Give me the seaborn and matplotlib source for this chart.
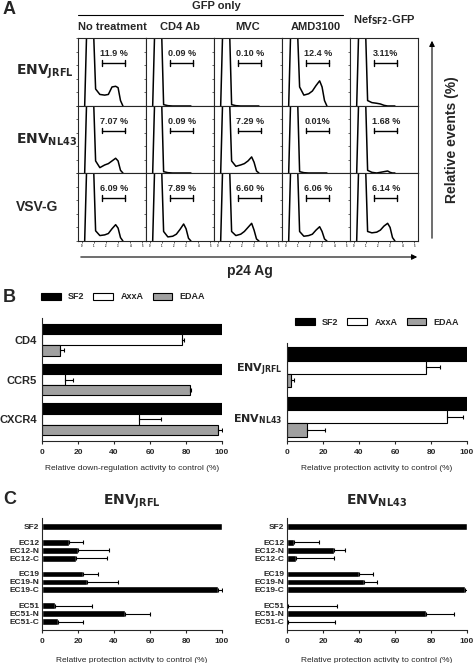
import matplotlib
matplotlib.use('Agg')
import matplotlib.pyplot as plt
import numpy as np
import pandas as pd
import seaborn as sns

sns.set_style('ticks')
plt.rcParams['font.family'] = ['Liberation Sans', 'DejaVu Sans']
plt.rcParams['font.weight'] = 'bold'
plt.rcParams['axes.linewidth'] = 0.8

W, H = 474, 663

# ---------------- data ----------------
# panel A: histogram outlines on a log10 p24 axis
hist_x = [0.25, 0.4, 1.0, 1.15, 1.5, 1.9, 2.2, 2.5, 2.8, 3.0, 3.2, 3.4]
row_names = [r'$\mathbf{ENV_{JRFL}}$', r'$\mathbf{ENV_{NL43}}$', 'VSV-G']
col_names = ['No treatment', 'CD4 Ab', 'MVC', 'AMD3100']
pct_labels = [['11.9 %', '0.09 %', '0.10 %', '12.4 %', '3.11%'],
              ['7.07 %', '0.09 %', '7.29 %', '0.01%', '1.68 %'],
              ['6.09 %', '7.89 %', '6.60 %', '6.06 %', '6.14 %']]
hist_y = [
    [[0, 100, 100, 25, 17, 16, 17, 28, 29, 27, 8, 0],
     [0, 100, 100, 2, 0.5, 0, 0, 0, 0, 0, 0, 0],
     [0, 100, 100, 2, 0.5, 0, 0, 0, 0, 0, 0, 0],
     [0, 100, 100, 28, 16, 18, 22, 30, 37, 28, 8, 0],
     [0, 100, 100, 8, 5, 4, 3, 1, 0, 0, 0, 0]],
    [[0, 100, 100, 18, 8, 12, 14, 18, 22, 18, 4, 0],
     [0, 100, 100, 2, 0.5, 0, 0, 0, 0, 0, 0, 0],
     [0, 100, 100, 18, 10, 12, 14, 18, 24, 16, 3, 0],
     [0, 100, 100, 2, 0.5, 0, 0, 0, 0, 0, 0, 0],
     [0, 100, 100, 4, 1, 0, 1, 2, 3, 1, 0, 0]],
    [[0, 100, 100, 15, 8, 9, 11, 18, 24, 19, 5, 0],
     [0, 100, 100, 14, 6, 7, 10, 17, 25, 18, 4, 0],
     [0, 100, 100, 14, 8, 10, 14, 20, 26, 16, 3, 0],
     [0, 100, 100, 14, 7, 8, 10, 16, 21, 14, 3, 0],
     [0, 100, 100, 14, 12, 13, 16, 22, 26, 20, 5, 0]],
]

# panel B
b_left_targets = ['CD4', 'CCR5', 'CXCR4']
b_constructs = ['SF2', 'AxxA', 'EDAA']
b_left_vals = {'SF2': [100, 100, 100], 'AxxA': [78, 13, 54], 'EDAA': [10, 82, 98]}
b_left_err = {'SF2': [0, 0, 0], 'AxxA': [1, 4, 12], 'EDAA': [2, 1, 2]}
b_right_targets = [r'$\mathbf{ENV_{JRFL}}$', r'$\mathbf{ENV_{NL43}}$']
b_right_vals = {'SF2': [100, 100], 'AxxA': [77, 89], 'EDAA': [2, 11]}
b_right_err = {'SF2': [0, 0], 'AxxA': [8, 9], 'EDAA': [2, 10]}

# panel C
c_mutants = ['SF2', 'EC12', 'EC12-N', 'EC12-C', 'EC19', 'EC19-N', 'EC19-C',
             'EC51', 'EC51-N', 'EC51-C']
c_order = ['SF2', ' ', 'EC12', 'EC12-N', 'EC12-C', '  ', 'EC19', 'EC19-N', 'EC19-C',
           '   ', 'EC51', 'EC51-N', 'EC51-C']
c_jrfl = [100, 15, 20, 19, 23, 25, 98, 7, 46, 9]
c_jrfl_err = [0, 8, 17, 17, 8, 17, 2, 21, 14, 14]
c_nl43 = [100, 4, 26, 5, 40, 43, 99, 0.5, 77, 0.5]
c_nl43_err = [0, 14, 6, 21, 8, 7, 2, 27, 16, 26]

fig = plt.figure(figsize=(W / 100, H / 100), dpi=100)


def box(x0, y0, x1, y1):
    return [x0 / W, 1 - y1 / H, (x1 - x0) / W, (y1 - y0) / H]


def ftext(x, y, s, **kw):
    fig.text(x / W, 1 - y / H, s, **kw)


# ---------------- panel A ----------------
cols_x = [78, 146, 214, 282, 350, 418]
rows_y = [38, 106, 173, 241]
for r in range(3):
    for c in range(5):
        ax = fig.add_axes(box(cols_x[c], rows_y[r], cols_x[c + 1], rows_y[r + 1]))
        sns.lineplot(x=hist_x, y=hist_y[r][c], color='black', lw=1.1, ax=ax)
        ax.set_xlim(-0.3, 5.3)
        ax.set_ylim(0, 100)
        ax.set_xticks(range(6))
        ax.set_yticks([0, 20, 40, 60, 80, 100])
        ax.tick_params(length=1.5, width=0.5, labelsize=2, pad=0.5)
        ax.set_yticklabels([])
        if r < 2:
            ax.set_xticklabels([])
        ax.plot([1.7, 3.6], [63, 63], color='black', lw=1)
        ax.plot([1.7, 1.7], [59, 67], color='black', lw=1)
        ax.plot([3.6, 3.6], [59, 67], color='black', lw=1)
        ax.text(2.65, 70, pct_labels[r][c], ha='center', va='bottom', fontsize=6.5)

ftext(3, 10, 'A', fontsize=13, va='center')
ftext(216, 6, 'GFP only', fontsize=8, ha='center', va='center')
fig.add_artist(plt.Line2D([78 / W, 343 / W], [1 - 15 / H, 1 - 15 / H], color='black', lw=0.8))
for c, name in enumerate(col_names):
    ftext((cols_x[c] + cols_x[c + 1]) / 2, 27, name, fontsize=8, ha='center', va='center')
ftext(384, 20, r'Nef$_{\mathbf{SF2}}$-GFP', fontsize=8, ha='center', va='center')
for r, name in enumerate(row_names):
    ftext(16, (rows_y[r] + rows_y[r + 1]) / 2, name, fontsize=10, va='center')
fig.add_artist(matplotlib.patches.FancyArrowPatch((78 / W, 1 - 257 / H), (420 / W, 1 - 257 / H),
               transform=fig.transFigure, arrowstyle='-|>', mutation_scale=8, color='black', lw=0.8))
fig.add_artist(matplotlib.patches.FancyArrowPatch((432 / W, 1 - 241 / H), (432 / W, 1 - 38 / H),
               transform=fig.transFigure, arrowstyle='-|>', mutation_scale=8, color='black', lw=0.8))
ftext(250, 271, 'p24 Ag', fontsize=10, ha='center', va='center')
ftext(452, 140, 'Relative events (%)', fontsize=10, ha='center', va='center', rotation=90)

# ---------------- panel B ----------------
palette = {'SF2': 'black', 'AxxA': 'white', 'EDAA': '#a0a0a0'}


def grouped(ax, targets, vals, errs, xlabel):
    df = pd.DataFrame([(t, k, vals[k][i]) for k in b_constructs for i, t in enumerate(targets)],
                      columns=['target', 'construct', 'value'])
    sns.barplot(data=df, y='target', x='value', hue='construct', hue_order=b_constructs,
                palette=palette, edgecolor='black', linewidth=0.8, orient='h',
                errorbar=None, width=0.8, ax=ax)
    for k, cont in zip(b_constructs, ax.containers):
        for i, p in enumerate(cont.patches):
            if errs[k][i] > 0:
                yc = p.get_y() + p.get_height() / 2
                ax.errorbar(vals[k][i], yc, xerr=[[0], [errs[k][i]]], color='black',
                            lw=0.8, capsize=1.5, capthick=0.8)
    ax.set_xlim(0, 100)
    ax.set_xticks(range(0, 101, 20))
    ax.set_xlabel(xlabel, fontsize=6, labelpad=7)
    ax.set_ylabel('')
    ax.tick_params(axis='y', length=0, labelsize=8)
    ax.tick_params(axis='x', labelsize=6, length=2)
    sns.despine(ax=ax)
    ax.legend(ncol=3, frameon=False, fontsize=6.5, handlelength=2.2, handleheight=0.8,
              columnspacing=1.0, loc='lower center', bbox_to_anchor=(0.5, 1.02))


axb1 = fig.add_axes(box(42, 318, 222, 441))
grouped(axb1, b_left_targets, b_left_vals, b_left_err, 'Relative down-regulation activity to control (%)')
axb1.get_legend().set_bbox_to_anchor((0.45, 1.07))
axb2 = fig.add_axes(box(287, 343, 467, 441))
grouped(axb2, b_right_targets, b_right_vals, b_right_err, 'Relative protection activity to control (%)')
axb2.get_legend().set_bbox_to_anchor((0.5, 1.08))
ftext(3, 297, 'B', fontsize=13, va='center')

# ---------------- panel C ----------------


def mutant_plot(ax, vals, errs, title):
    df = pd.DataFrame({'mutant': c_mutants, 'value': vals})
    sns.barplot(data=df, y='mutant', x='value', order=c_order, color='black',
                orient='h', errorbar=None, width=0.85, ax=ax)
    for m, v, e in zip(c_mutants, vals, errs):
        if e > 0:
            ax.errorbar(v, c_order.index(m), xerr=[[0], [e]], color='black',
                        lw=0.8, capsize=1.5, capthick=0.8)
    ax.set_xlim(0, 100)
    ax.set_xticks(range(0, 101, 20))
    ax.set_xlabel('Relative protection activity to control (%)', fontsize=6, labelpad=9)
    ax.set_ylabel('')
    ax.tick_params(axis='y', length=0, labelsize=6, pad=2)
    ax.tick_params(axis='x', labelsize=6, length=2)
    ax.set_title(title, fontsize=10, pad=10)
    sns.despine(ax=ax)


axc1 = fig.add_axes(box(42, 518, 222, 630))
mutant_plot(axc1, c_jrfl, c_jrfl_err, r'$\mathbf{ENV_{JRFL}}$')
axc2 = fig.add_axes(box(287, 518, 467, 630))
mutant_plot(axc2, c_nl43, c_nl43_err, r'$\mathbf{ENV_{NL43}}$')
ftext(3, 500, 'C', fontsize=13, va='center')

fig.savefig('out.png', dpi=100)
